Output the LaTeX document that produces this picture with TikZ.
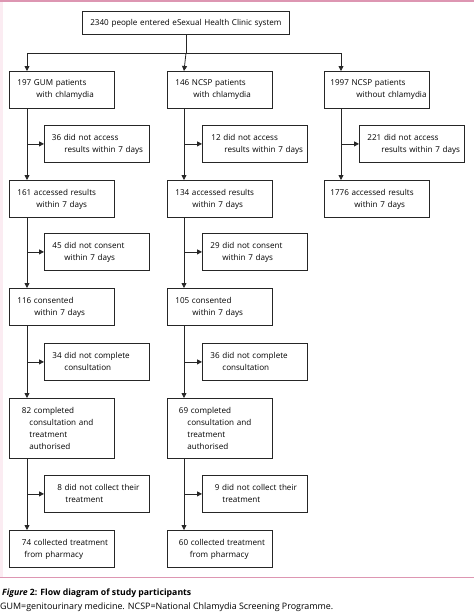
\documentclass[tikz,border=0pt]{standalone}
\usepackage{fontspec}
\setmainfont{Open Sans}
\usetikzlibrary{positioning, arrows.meta, calc}
\definecolor{lancetpink}{RGB}{221,150,178}
\definecolor{palepink}{RGB}{251,236,242}
\tikzset{
  box/.style  = {draw=black!85, line width=0.8pt, rectangle, anchor=north west,
                 inner xsep=0pt, inner ysep=2pt, text width=105pt, align=left,
                 minimum height=37pt, font=\fontsize{8.1}{12}\selectfont},
  tall/.style = {box, minimum height=60pt},
  ln/.style   = {line width=0.8pt, black!85},
  ar/.style   = {ln, -{Triangle[length=5pt, width=5pt]}},
  captxt/.style = {anchor=west, inner sep=0pt, font=\fontsize{8.9}{11}\selectfont},
}

\begin{document}
\begin{tikzpicture}[x=1pt, y=-1pt]
  \useasboundingbox (0,0) rectangle (474,613);
  \fill[lancetpink] (0,0) rectangle (474,2);
  \fill[palepink] (0,2) rectangle (3,577);
  \draw[lancetpink, line width=1pt] (0,577) -- (474,577);

  \node[box, text width=207pt, minimum height=23pt, align=center] (top) at (82,11)
    {2340 people entered eSexual Health Clinic system};

  % GUM patients
  \node[box] (g1) at (9,71)
    {\hspace*{8pt}197 GUM patients\\\hspace*{27pt}with chlamydia};
  \node[box] (gs1) at (44,125)
    {\hspace*{7.5pt}36 did not access\\\hspace*{20pt}results within 7 days};
  \node[box] (g2) at (9,180)
    {\hspace*{8pt}161 accessed results\\\hspace*{27pt}within 7 days};
  \node[box] (gs2) at (44,233)
    {\hspace*{8pt}45 did not consent\\\hspace*{20pt}within 7 days};
  \node[box] (g3) at (9,288)
    {\hspace*{8pt}116 consented\\\hspace*{25pt}within 7 days};
  \node[box] (gs3) at (44,343)
    {\hspace*{8pt}34 did not complete\\\hspace*{20pt}consultation};
  \node[tall] (g4) at (9,398)
    {\hspace*{12.5pt}82 completed\\\hspace*{20pt}consultation and\\
     \hspace*{20pt}treatment\\\hspace*{20pt}authorised};
  \node[box] (gs4) at (44,475)
    {\hspace*{13pt}8 did not collect their\\\hspace*{21pt}treatment};
  \node[box] (g5) at (9,530)
    {\hspace*{12.5pt}74 collected treatment\\\hspace*{15pt}from pharmacy};

  % NCSP patients with chlamydia
  \node[box] (n1) at (167,71)
    {\hspace*{8pt}146 NCSP patients\\\hspace*{26pt}with chlamydia};
  \node[box] (ns1) at (202,125)
    {\hspace*{9pt}12 did not access\\\hspace*{22pt}results within 7 days};
  \node[box] (n2) at (167,180)
    {\hspace*{8pt}134 accessed results\\\hspace*{25pt}within 7 days};
  \node[box] (ns2) at (202,233)
    {\hspace*{8pt}29 did not consent\\\hspace*{20pt}within 7 days};
  \node[box] (n3) at (167,288)
    {\hspace*{8pt}105 consented\\\hspace*{25pt}within 7 days};
  \node[box] (ns3) at (202,343)
    {\hspace*{8pt}36 did not complete\\\hspace*{20pt}consultation};
  \node[tall] (n4) at (167,398)
    {\hspace*{11.5pt}69 completed\\\hspace*{20pt}consultation and\\
     \hspace*{20pt}treatment\\\hspace*{20pt}authorised};
  \node[box] (ns4) at (202,475)
    {\hspace*{12.5pt}9 did not collect their\\\hspace*{20pt}treatment};
  \node[box] (n5) at (167,530)
    {\hspace*{11.5pt}60 collected treatment\\\hspace*{22.5pt}from pharmacy};

  % NCSP patients without chlamydia
  \node[box] (w1) at (324,71)
    {\hspace*{6pt}1997 NCSP patients\\\hspace*{32pt}without chlamydia};
  \node[box] (ws1) at (359,125)
    {\hspace*{8pt}221 did not access\\\hspace*{22pt}results within 7 days};
  \node[box] (w2) at (324,180)
    {\hspace*{6pt}1776 accessed results\\\hspace*{30pt}within 7 days};

  % connectors
  \coordinate (split) at ($(top.south)+(0,19)$);
  \coordinate (gcol) at ([xshift=18pt]g1.south west);
  \coordinate (ncol) at ([xshift=17pt]n1.south west);
  \coordinate (wcol) at ([xshift=17pt]w1.south west);
  \draw[ln] (top.south) -- (split);
  \draw[ar] (split) -| (g1.north -| gcol);
  \draw[ar] (split) -- (n1.north -| ncol);
  \draw[ar] (split) -| (w1.north -| wcol);
  \foreach \i/\j in {1/2, 2/3, 3/4, 4/5}{
    \draw[ar] (g\i.south -| gcol) -- (g\j.north -| gcol);
    \draw[ar] (gs\i.west -| gcol) -- (gs\i.west);
    \draw[ar] (n\i.south -| ncol) -- (n\j.north -| ncol);
    \draw[ar] (ns\i.west -| ncol) -- (ns\i.west);
  }
  \draw[ar] (w1.south -| wcol) -- (w2.north -| wcol);
  \draw[ar] (ws1.west -| wcol) -- (ws1.west);

  % caption
  \node[captxt, font=\fontsize{8.7}{11}\selectfont] (title) at (2,593)
    {\bfseries\itshape Figure\/ \upshape 2: Flow diagram of study participants};
  \node[captxt] (notes) at (0,607)
    {GUM=genitourinary medicine. NCSP=National Chlamydia Screening Programme.};
\end{tikzpicture}
\end{document}
